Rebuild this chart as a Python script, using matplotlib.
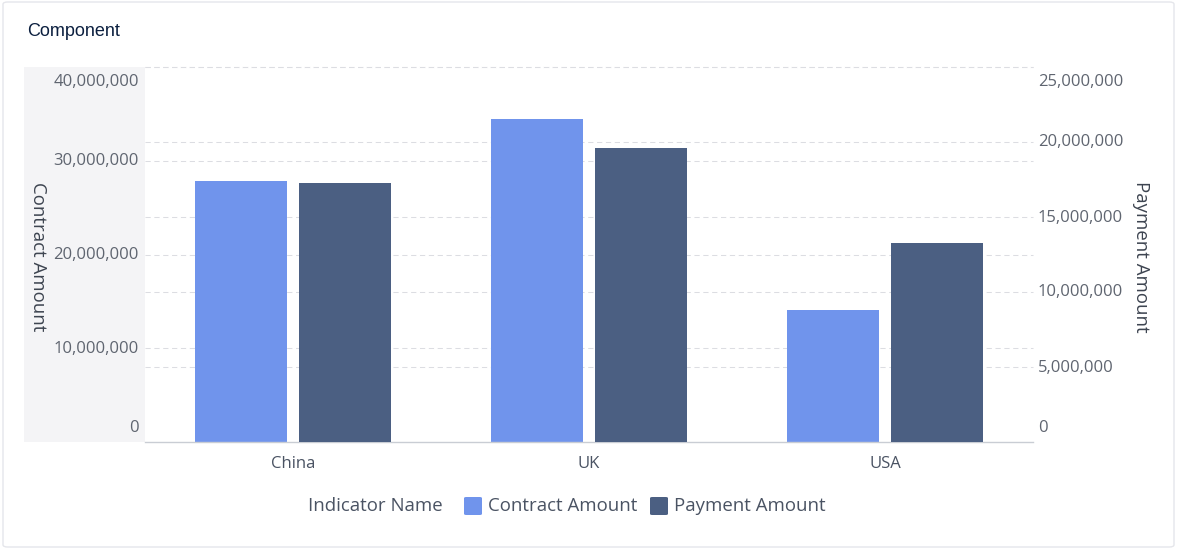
import matplotlib
matplotlib.use('Agg')
import matplotlib.pyplot as plt
import matplotlib.transforms as mtransforms
from matplotlib.patches import Rectangle, FancyBboxPatch
import numpy as np

# ---- data ----
categories = ['China', 'UK', 'USA']
contract_amount = [27_800_000, 34_500_000, 14_050_000]
payment_amount = [17_280_000, 19_570_000, 13_270_000]
left_ticks = [0, 10_000_000, 20_000_000, 30_000_000, 40_000_000]
right_ticks = [0, 5_000_000, 10_000_000, 15_000_000, 20_000_000, 25_000_000]
series_names = ['Contract Amount', 'Payment Amount']
left_title = 'Contract Amount'
right_title = 'Payment Amount'
legend_title = 'Indicator Name'
chart_title = 'Component'

# ---- styles ----
C_CONTRACT = '#7094ec'
C_PAYMENT = '#4b5f82'
C_TICK = '#5f6570'
C_CAT = '#4a5363'
C_AXTITLE = '#3d4450'
C_GRID = '#dcdde2'
FONT = ['Open Sans', 'DejaVu Sans']

W, H = 1178, 550
fig = plt.figure(figsize=(W / 100, H / 100), dpi=100)
fig.patch.set_facecolor('white')


def fx(px):
    return px / W


def fy(py):
    return 1 - py / H


L, R, T, B = 145, 1033, 67, 442
ax = fig.add_axes([fx(L), fy(B), (R - L) / W, (B - T) / H])
ax2 = ax.twinx()
ax2.patch.set_visible(False)

x = np.arange(len(categories))
off = 52 / 296
bw = 92 / 296
ax.bar(x - off, contract_amount, width=bw, color=C_CONTRACT, zorder=3, linewidth=0)
ax2.bar(x + off, payment_amount, width=bw, color=C_PAYMENT, zorder=3, linewidth=0)

ax.set_xlim(-0.5, len(categories) - 0.5)
ax.set_ylim(left_ticks[0], left_ticks[-1])
ax2.set_ylim(right_ticks[0], right_ticks[-1])

# gridlines (both scales), drawn in the lower axes
for v in left_ticks[1:]:
    ax.axhline(v, color=C_GRID, lw=0.75, ls=(0, (5, 3.5)), zorder=1, clip_on=False)
tr_right = mtransforms.blended_transform_factory(ax.transAxes, ax2.transData)
for v in right_ticks[1:]:
    ax.plot([0, 1], [v, v], transform=tr_right, color=C_GRID, lw=0.75,
            ls=(0, (5, 3.5)), zorder=1, clip_on=False)

for a in (ax, ax2):
    for s in a.spines.values():
        s.set_visible(False)
    a.tick_params(left=False, right=False, labelleft=False, labelright=False)
ax.spines['bottom'].set_visible(True)
ax.spines['bottom'].set_color('#c9cdd4')
ax.spines['bottom'].set_linewidth(1.0)
ax.spines['bottom'].set_zorder(4)

ax.set_xticks(x, categories)
ax.tick_params(axis='x', length=0, pad=10.2, labelsize=12, labelcolor=C_CAT)
for lbl in ax.get_xticklabels():
    lbl.set_family(FONT)


def fmt(v):
    return f'{v:,.0f}'


def place_ticks(axis_obj, ticks, side):
    base = mtransforms.blended_transform_factory(ax.transAxes, axis_obj.transData)
    for i, v in enumerate(ticks):
        if i == 0:
            dy = 14.5
        elif i == len(ticks) - 1:
            dy = -15.5
        else:
            dy = -0.5
        if side == 'left':
            dx, xa, ha = -6, 0, 'right'
        else:
            dx, xa, ha = 5, 1, 'left'
        tr = base + mtransforms.ScaledTranslation(dx / 100, dy / 100, fig.dpi_scale_trans)
        ax.text(xa, v, fmt(v), transform=tr, ha=ha, va='center', fontsize=12,
                color=C_TICK, family=FONT, clip_on=False)


place_ticks(ax, left_ticks, 'left')
place_ticks(ax2, right_ticks, 'right')

# left gray panel
fig.add_artist(Rectangle((fx(24), fy(B)), (L - 24) / W, (B - T) / H, transform=fig.transFigure,
                         facecolor='#f4f4f6', edgecolor='none', zorder=-5))
# outer border
fig.add_artist(FancyBboxPatch((fx(3), fy(547)), (1174 - 3) / W, (547 - 2) / H,
                              boxstyle='round,pad=0,rounding_size=0.004',
                              transform=fig.transFigure, facecolor='none',
                              edgecolor='#e5e6eb', lw=1.0, zorder=-6))

# titles
fig.text(fx(27), fy(31), chart_title, ha='left', va='center', fontsize=13,
         color='#0b1f3f', family=['Liberation Sans', 'DejaVu Sans'])
fig.text(fx(38), fy(257), left_title, rotation=270, ha='center', va='center',
         fontsize=13.4, color=C_AXTITLE, family=FONT)
fig.text(fx(1141), fy(257), right_title, rotation=270, ha='center', va='center',
         fontsize=13.4, color=C_AXTITLE, family=FONT)

# legend
ly = 506
fig.text(fx(308), fy(ly), legend_title, ha='left', va='center', fontsize=13.4,
         color=C_CAT, family=FONT)
legend_items = [(464, 488, series_names[0], C_CONTRACT), (650, 674, series_names[1], C_PAYMENT)]
for px0, tx0, name, col in legend_items:
    fig.add_artist(FancyBboxPatch((fx(px0), fy(ly + 9)), 18 / W, 18 / H,
                                  boxstyle='round,pad=0,rounding_size=0.002',
                                  transform=fig.transFigure, facecolor=col, edgecolor='none'))
    fig.text(fx(tx0), fy(ly), name, ha='left', va='center', fontsize=13.4,
             color=C_CAT, family=FONT)

fig.savefig('out.png', dpi=100)
